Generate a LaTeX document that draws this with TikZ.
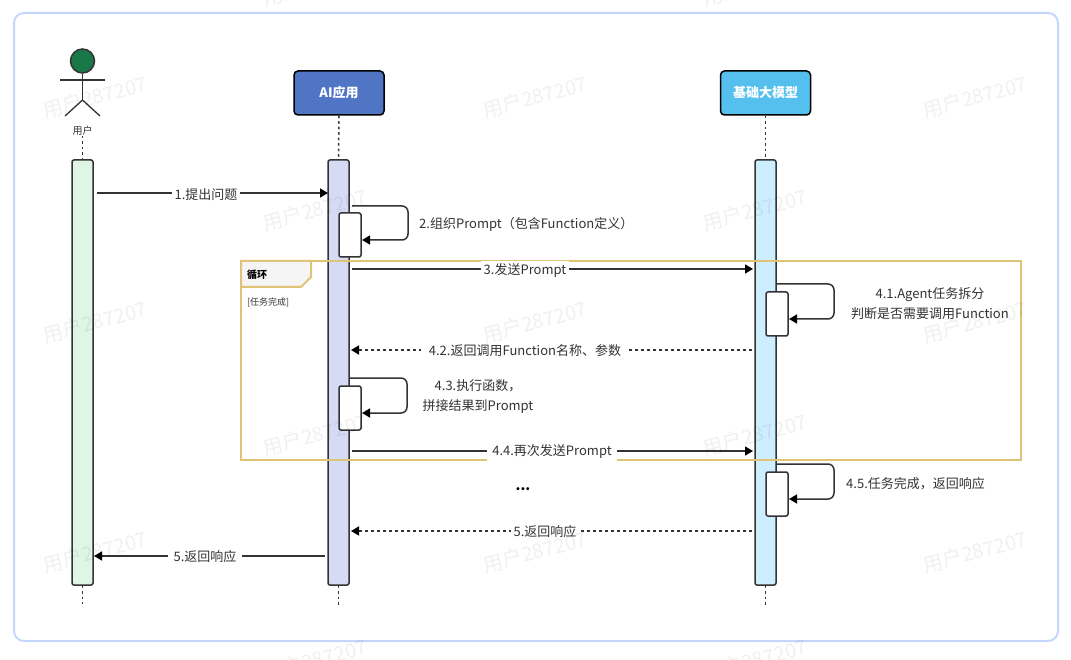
\documentclass[tikz,border=0pt]{standalone}
\usepackage{fontspec}
\setmainfont{Noto Sans CJK SC}
\usetikzlibrary{arrows.meta,positioning}
\definecolor{framecol}{HTML}{C6D6FF}
\definecolor{loopcol}{HTML}{DFC478}
\definecolor{inkcol}{HTML}{333333}
\definecolor{txtcol}{HTML}{333333}
\tikzset{
  head/.style={draw=black,line width=1.5pt,rounded corners=4pt,minimum width=90pt,minimum height=44pt,inner sep=0pt,text=white,font=\fontsize{13}{15}\selectfont\bfseries},
  bar/.style={draw=inkcol,line width=1.5pt,rounded corners=2pt,minimum width=21pt,minimum height=425pt,inner sep=0pt},
  subbar/.style={draw=inkcol,line width=1.5pt,rounded corners=2pt,fill=white,minimum width=22pt,minimum height=44pt,inner sep=0pt},
  lifeline/.style={draw=inkcol,line width=1.5pt,dash pattern=on 2.5pt off 3pt},
  msg/.style={draw=inkcol,line width=1.5pt,-{Triangle[length=8pt,width=9pt,color=black]}},
  msgdash/.style={msg,dash pattern=on 3pt off 3pt},
  msgtext/.style={fill=white,inner sep=3pt,text=txtcol,font=\fontsize{13}{20}\selectfont,align=center},
  sidetext/.style={inner sep=0pt,text=txtcol,font=\fontsize{13}{20}\selectfont,align=center},
  stamp/.style={rotate=15,text=black,text opacity=0.06,font=\fontsize{20}{22}\selectfont}
}
\begin{document}
\begin{tikzpicture}[x=1pt,y=-1pt]
  \clip (0,0) rectangle (1071,660);
  \fill[white] (0,0) rectangle (1071,660);
  \draw[framecol,line width=2pt,rounded corners=10pt] (14,13) rectangle (1058,641);
  % Actor
  \node[circle,draw=inkcol,line width=1.5pt,fill=green!35!black!60!teal!90,minimum size=24pt,inner sep=0pt] (head) at (82.5,61) {};
  \coordinate (hip) at (82.5,100);
  \coordinate (armL) at (60,80);
  \coordinate (armR) at (105,80);
  \coordinate (legL) at (65,116);
  \coordinate (legR) at (100,116);
  \draw[inkcol,line width=1.3pt] (head.south)--(hip);
  \draw[inkcol,line width=1.3pt] (armL)--(armR);
  \draw[inkcol,line width=1.3pt] (legL)--(hip)--(legR);
  \node[inner sep=0pt,text=txtcol,font=\fontsize{10}{12}\selectfont] (userlabel) at (82.5,131) {用户};
  % Heads
  \node[head,fill={rgb,255:red,80;green,117;blue,197}] (aihead) at (339,93) {AI应用};
  \node[head,fill={rgb,255:red,85;green,192;blue,238}] (llmhead) at (765.5,93) {基础大模型};
  % Bars and lifelines
  \node[bar,fill={rgb,255:red,223;green,245;blue,229}] (userbar) at (82.5,372.5) {};
  \node[bar,fill={rgb,255:red,213;green,219;blue,245}] (aibar) at (338.5,372.5) {};
  \node[bar,fill={rgb,255:red,204;green,238;blue,255}] (llmbar) at (765.5,372.5) {};
  \coordinate (userend) at (82.5,604);
  \coordinate (aiend) at (338.5,606);
  \coordinate (llmend) at (765.5,606);
  \draw[lifeline] (userlabel.south)--(userbar.north);
  \draw[lifeline] (userbar.south)--(userend);
  \draw[lifeline] (aihead.south)--(aibar.north);
  \draw[lifeline] (aibar.south)--(aiend);
  \draw[lifeline] (llmhead.south)--(llmbar.north);
  \draw[lifeline] (llmbar.south)--(llmend);
  % Loop frame
  \draw[loopcol,line width=2pt] (241,261) rectangle (1021,460);
  \draw[loopcol,line width=2pt,fill={rgb,255:red,245;green,245;blue,245}] (241,261)--(311,261)--(311,277)--(301,287)--(241,287)--cycle;
  \node[anchor=west,inner sep=0pt,text=black,font=\fontsize{10}{12}\selectfont\bfseries] (looptitle) at (247,275) {循环};
  \node[anchor=west,inner sep=0pt,text=txtcol,font=\fontsize{9}{11}\selectfont] (loopcond) at (247,302) {[任务完成]};
  % Nested activations
  \node[subbar] (aisub1) at (350,235) {};
  \node[subbar] (aisub2) at (350,408) {};
  \node[subbar] (llmsub1) at (777,314) {};
  \node[subbar] (llmsub2) at (777,494) {};
  % Messages
  \coordinate (m1a) at (97,193);
  \coordinate (m1b) at (328,193);
  \draw[msg] (m1a)--(m1b);
  \node[msgtext] (m1) at (206,195) {1.提出问题};
  \coordinate (s2a) at (352,206);
  \coordinate (s2b) at (408,206);
  \coordinate (s2c) at (408,240);
  \coordinate (s2d) at (362,240);
  \draw[msg,rounded corners=6pt] (s2a)--(s2b)--(s2c)--(s2d);
  \node[sidetext,anchor=west] (s2) at (419,224) {2.组织Prompt（包含Function定义）};
  \coordinate (m3a) at (352,269);
  \coordinate (m3b) at (753,269);
  \draw[msg] (m3a)--(m3b);
  \node[msgtext] (m3) at (525,271) {3.发送Prompt};
  \coordinate (s41a) at (776,284);
  \coordinate (s41b) at (834,284);
  \coordinate (s41c) at (834,319);
  \coordinate (s41d) at (789,319);
  \draw[msg,rounded corners=6pt] (s41a)--(s41b)--(s41c)--(s41d);
  \node[sidetext] (s41) at (930,304) {4.1.Agent任务拆分\\判断是否需要调用Function};
  \coordinate (m42a) at (752,350);
  \coordinate (m42b) at (351,350);
  \draw[msgdash] (m42a)--(m42b);
  \node[msgtext,inner sep=8pt] (m42) at (525,351) {4.2.返回调用Function名称、参数};
  \coordinate (s43a) at (350,378);
  \coordinate (s43b) at (407,378);
  \coordinate (s43c) at (407,413);
  \coordinate (s43d) at (362,413);
  \draw[msg,rounded corners=6pt] (s43a)--(s43b)--(s43c)--(s43d);
  \node[sidetext] (s43) at (478,397) {4.3.执行函数，\\拼接结果到Prompt};
  \coordinate (m44a) at (352,451);
  \coordinate (m44b) at (753,451);
  \draw[msg] (m44a)--(m44b);
  \node[msgtext,inner sep=5pt] (m44) at (552,452) {4.4.再次发送Prompt};
  \coordinate (s45a) at (776,464);
  \coordinate (s45b) at (834,464);
  \coordinate (s45c) at (834,499);
  \coordinate (s45d) at (789,499);
  \draw[msg,rounded corners=6pt] (s45a)--(s45b)--(s45c)--(s45d);
  \node[sidetext,anchor=west] (s45) at (846,484) {4.5.任务完成，返回响应};
  \node[inner sep=0pt,text=black,font=\fontsize{14}{16}\selectfont\bfseries] (dots) at (523,489) {...};
  \coordinate (m5a) at (752,531);
  \coordinate (m5b) at (351,531);
  \draw[msgdash] (m5a)--(m5b);
  \node[msgtext] (m5) at (545,532) {5.返回响应};
  \coordinate (m6a) at (325,556);
  \coordinate (m6b) at (94,556);
  \draw[msg] (m6a)--(m6b);
  \node[msgtext,inner sep=6pt] (m6) at (205,557) {5.返回响应};
  % Watermark
  \foreach \wx/\wy in {315/-15,755/-15,95/97,535/97,975/97,315/210,755/210,95/322,535/322,975/322,315/435,755/435,95/552,535/552,975/552,315/660,755/660}
    \node[stamp] at (\wx,\wy) {用户287207};
\end{tikzpicture}
\end{document}
